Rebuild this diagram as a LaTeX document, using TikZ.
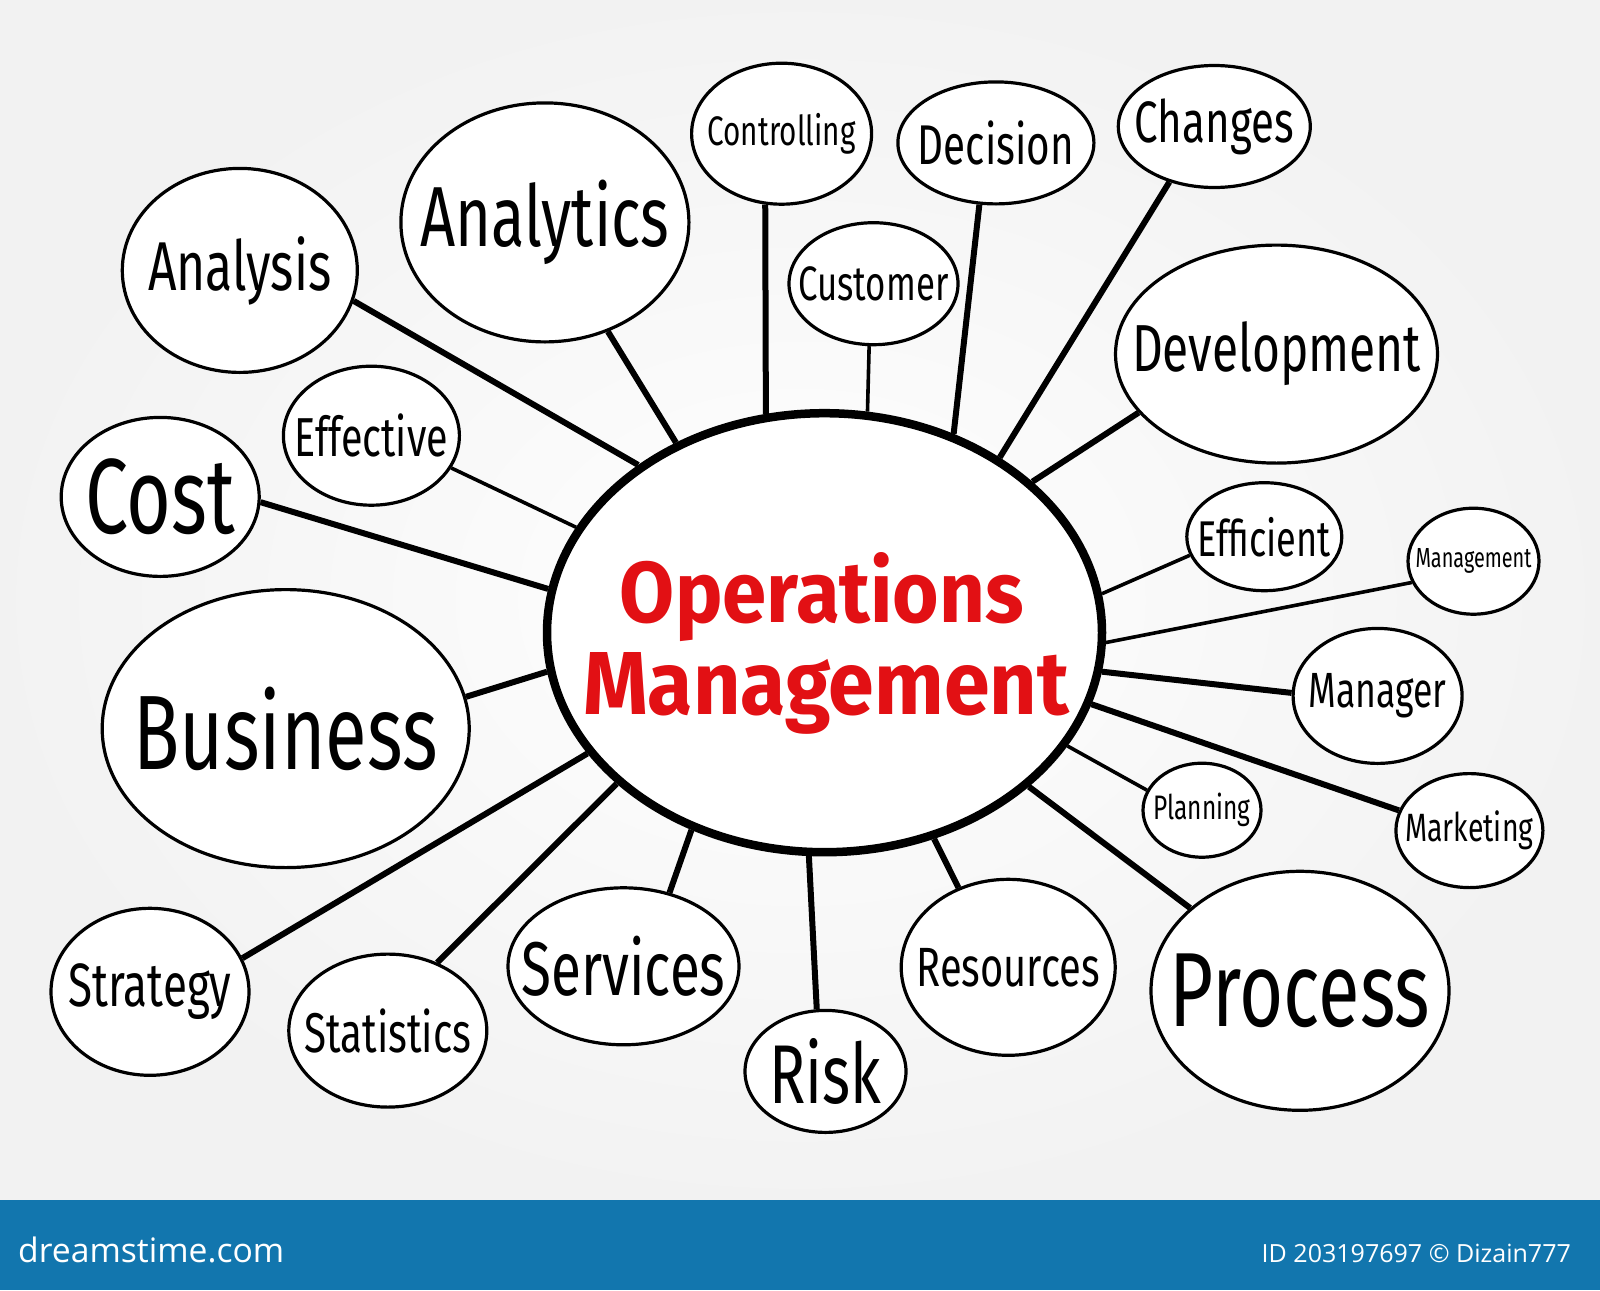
\documentclass[tikz,border=0pt]{standalone}
\usepackage{graphicx}
\usepackage{fontspec}
\newfontfamily\handfont{Fira Sans}[FakeStretch=0.72]
\newfontfamily\footfont{Open Sans}
\usetikzlibrary{shapes.geometric,positioning}
\definecolor{omred}{RGB}{226,16,20}
\definecolor{barblue}{RGB}{18,118,174}
\newcommand{\handtext}[2]{\makebox[0pt]{\resizebox{#1pt}{!}{\handfont #2}}}
\begin{document}
\begin{tikzpicture}
[x=1pt,y=-1pt,
bubble/.style={shape=ellipse,draw,fill=white,line width=3.2pt,inner sep=0pt},
hub/.style={shape=ellipse,draw,fill=white,line width=8.5pt,inner sep=0pt},
redtext/.style={anchor=base,inner sep=0pt,text=omred},
foottext/.style={inner sep=0pt,text=white},
%
spoke/.style={line width=6pt,black},
thinspoke/.style={line width=3.6pt,black}]
%
\useasboundingbox (0,0) rectangle (1600,1290);
\shade[inner color=white,outer color=gray!10] (0,0) rectangle (1600,1200);
\fill[barblue] (0,1200) rectangle (1600,1290);
%
\node (hub) [hub,minimum width=555pt,minimum height=439pt] at (824.5,632.7) {};
\node (op1) [redtext] at (822,622) {\makebox[0pt]{\resizebox{404pt}{70pt}{\handfont\bfseries Operations}}};
\node (op2) [redtext] at (826,714) {\makebox[0pt]{\resizebox{486pt}{62pt}{\handfont\bfseries Management}}};
%
%% top
\node (controlling) [bubble,minimum width=180pt,minimum height=141pt] at (781.6,133.7) {\handtext{148}{Controlling}};
\node (decision) [bubble,minimum width=196pt,minimum height=122pt] at (995.9,142.9) {\handtext{156}{Decision}};
\node (changes) [bubble,minimum width=192pt,minimum height=122pt] at (1214.3,126.5) {\handtext{159}{Changes}};
\node (customer) [bubble,minimum width=169pt,minimum height=122pt] at (873.5,283.7) {\handtext{150}{Customer}};
\node (analytics) [bubble,minimum width=288pt,minimum height=239pt] at (544.9,222.4) {\handtext{249}{Analytics}};
%% left
\node (analysis) [bubble,minimum width=235pt,minimum height=204pt] at (239.8,270.4) {\handtext{183}{Analysis}};
\node (effective) [bubble,minimum width=176pt,minimum height=139pt] at (371.4,435.7) {\handtext{153}{Effective}};
\node (cost) [bubble,minimum width=198pt,minimum height=159pt] at (160.2,496.9) {\handtext{150}{Cost}};
\node (business) [bubble,minimum width=367pt,minimum height=278pt] at (285.7,728.6) {\handtext{304}{Business}};
%% bottom
\node (strategy) [bubble,minimum width=198pt,minimum height=167pt] at (150,991.8) {\handtext{163}{Strategy}};
\node (statistics) [bubble,minimum width=198pt,minimum height=153pt] at (387.8,1030.6) {\handtext{167}{Statistics}};
\node (services) [bubble,minimum width=231pt,minimum height=157pt] at (623.5,966.3) {\handtext{204}{Services}};
\node (risk) [bubble,minimum width=161pt,minimum height=122pt] at (825.5,1071.4) {\handtext{112}{Risk}};
\node (resources) [bubble,minimum width=214pt,minimum height=176pt] at (1008.2,967.3) {\handtext{183}{Resources}};
\node (process) [bubble,minimum width=298pt,minimum height=239pt] at (1300,990.8) {\handtext{260}{Process}};
%% right
\node (planning) [bubble,minimum width=118pt,minimum height=94pt] at (1202,810.2) {\handtext{97}{Planning}};
\node (marketing) [bubble,minimum width=147pt,minimum height=114pt] at (1469.4,830.6) {\handtext{128}{Marketing}};
\node (manager) [bubble,minimum width=169pt,minimum height=135pt] at (1377.6,695.9) {\handtext{138}{Manager}};
\node (management) [bubble,minimum width=131pt,minimum height=106pt] at (1473.5,561.2) {\handtext{116}{Management}};
\node (efficient) [bubble,minimum width=155pt,minimum height=108pt] at (1264.3,536.7) {\handtext{133}{Efficient}};
\node (development) [bubble,minimum width=322pt,minimum height=218pt] at (1276.5,354.1) {\handtext{289}{Development}};
%
\draw[spoke] (hub.105.7) -- (controlling.257);
\draw[spoke] (hub.57.6) -- (decision.255);
\draw[spoke] (hub.45.5) -- (changes.231);
\draw[thinspoke] (hub.79) -- (customer.266);
\draw[spoke] (hub.128) -- (analytics.300.5);
%
\draw[spoke] (hub.138.7) -- (analysis.345.4);
\draw[thinspoke] (hub.157.4) -- (effective.338);
\draw[spoke] (hub.171.7) -- (cost.357);
\draw[spoke] (hub.188.3) -- (business.10.8);
%
\draw[spoke] (hub.207.7) -- (strategy.20);
\draw[spoke] (hub.216.4) -- (statistics.54.5);
\draw[spoke] (hub.236) -- (services.58.6);
\draw[spoke] (hub.266) -- (risk.98.5);
\draw[spoke] (hub.298.1) -- (resources.122);
\draw[spoke] (hub.323.2) -- (process.143.9);
%
\draw[thinspoke] (hub.335.4) -- (planning.160);
\draw[spoke] (hub.345.5) -- (marketing.164.8);
\draw[spoke] (hub.352) -- (manager.178.6);
\draw[thinspoke] (hub.358.3) -- (management.199);
\draw[thinspoke] (hub.8.7) -- (efficient.194.4);
\draw[spoke] (hub.36.2) -- (development.203);
%
\node (site) [foottext,anchor=base west] at (18,1262) {\resizebox{266pt}{!}{\footfont dreamstime.com}};
\node (credit) [foottext,anchor=base east] at (1571,1262) {\resizebox{309pt}{!}{\footfont ID 203197697 © Dizain777}};
\end{tikzpicture}
\end{document}
